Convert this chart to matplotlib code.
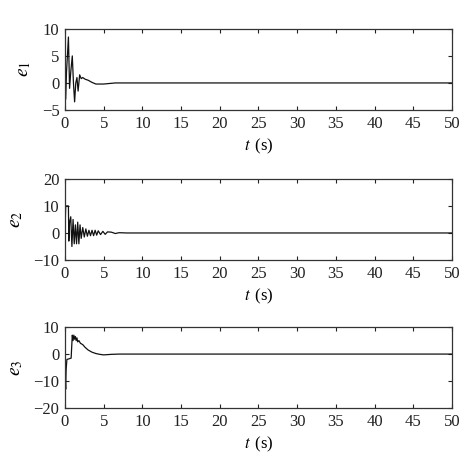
import matplotlib
matplotlib.use("Agg")
import matplotlib.pyplot as plt

# e1 trace
t1 = [0, 0.1, 0.2, 0.3, 0.45, 0.6, 0.75, 0.95, 1.1, 1.25, 1.4, 1.55, 1.7, 1.9,
      2.1, 2.3, 2.6, 3.0, 3.5, 4.0, 5.0, 6.5, 8, 50]
e1 = [2, -3, 2, 4.5, 8.5, -1, 2, 5, 0, -3.5, 0, 1, -1.5, 1.5,
      0.8, 1, 0.7, 0.5, 0.1, -0.2, -0.2, 0, 0, 0]

# e2 trace
t2 = [0, 0.05, 0.1, 0.45, 0.5, 0.6, 0.75, 0.9, 1.05, 1.2, 1.35, 1.5, 1.65, 1.8,
      1.95, 2.1, 2.3, 2.5, 2.7, 2.9, 3.1, 3.3, 3.5, 3.7, 3.9, 4.1, 4.3, 4.6,
      4.9, 5.2, 5.5, 6, 6.5, 7, 8, 50]
e2 = [-5, 5, 10, 10, -3, 4, 6, -5, 5, -4, 3, -4, 4, -4,
      3, -2, 2, -1.5, 1.5, -1.2, 1, -1, 1, -1, 1, -0.8, 0.8, -0.6,
      0.6, -0.5, 0.4, 0.3, -0.2, 0.1, 0, 0]

# e3 trace
t3 = [0, 0.05, 0.1, 0.15, 0.25, 0.8, 0.95, 1.05, 1.15, 1.25, 1.35, 1.45, 1.55,
      1.65, 1.8, 2.0, 2.3, 2.6, 3.0, 3.5, 4.0, 4.5, 5.0, 6.0, 7.0, 50]
e3 = [-14, -10, -13, -6, -2, -1.5, 7, 5, 7, 5.5, 6.5, 5, 6,
      4.5, 5, 4, 3.5, 2.5, 1.5, 0.7, 0.2, -0.1, -0.3, -0.1, 0, 0]

xticks = [0, 5, 10, 15, 20, 25, 30, 35, 40, 45, 50]
panels = [
    (t1, e1, r"$e_1$", (-5, 10), [-5, 0, 5, 10]),
    (t2, e2, r"$e_2$", (-10, 20), [-10, 0, 10, 20]),
    (t3, e3, r"$e_3$", (-20, 10), [-20, -10, 0, 10]),
]

plt.rcParams["font.family"] = ["Liberation Serif", "DejaVu Serif"]
plt.rcParams["mathtext.fontset"] = "stix"

fig = plt.figure(figsize=(4.74, 4.74), dpi=100)
bottoms = [0.768, 0.4515, 0.139]
for (t, e, lab, ylim, yt), b in zip(panels, bottoms):
    ax = fig.add_axes([0.137, b, 0.8165, 0.171])
    ax.plot(t, e, color="#111111", lw=0.9)
    ax.set_xlim(0, 50)
    ax.set_ylim(*ylim)
    ax.set_xticks(xticks)
    ax.set_yticks(yt)
    ax.tick_params(direction="in", top=True, right=True, length=3, width=0.8,
                   labelsize=12, pad=4, colors="#222222")
    for s in ax.spines.values():
        s.set_linewidth(0.9)
        s.set_color("#333333")
    ax.set_xlabel(r"$t\,$ (s)", fontsize=12, labelpad=4)
    ax.set_ylabel(lab, fontsize=14, labelpad=6)

fig.savefig("out.png", dpi=100)
